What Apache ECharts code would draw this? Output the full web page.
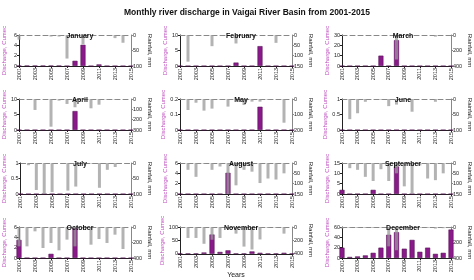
<!DOCTYPE html>
<html><head><meta charset="utf-8">
<script src="https://cdn.jsdelivr.net/npm/echarts@6/dist/echarts.min.js"></script>
<style>html,body{margin:0;padding:0;background:#fff}#c{width:474px;height:280px}</style>
</head><body><div id="c"></div>
<script>
const years = [2001,2002,2003,2004,2005,2006,2007,2008,2009,2010,2011,2012,2013,2014,2015];
const months = ['January','February','March','April','May','June','July','August','September','October','November','December'];
const janQ = [0.05,0.05,0.05,0.05,0.05,0.05,0,1.0,4.1,0,0.3,0,0,0,0];
const janR = [15,0,0,0,5,5,76,0,30,0,0,0,10,25,0];
const febQ = [0,0,0,0,0,0,0,1.1,0,0,6.4,0,0,0,0];
const febR = [0,129,0,0,54,0,0,41,0,0,0,0,38,0,0];
const marQ = [0,0,0,0,0,10,0,25,0,0,0,0,0,0,0];
const marR = [0,0,0,0,0,0,0,316,0,0,0,0,21,0,0];
const aprQ = [0,0,0,0,0,0,0,6.1,0,0,0,0,0,0,0];
const aprR = [0,0,106,0,268,16,48,80,0,90,55,5,5,0,0];
const mayQ = [0,0,0,0,0,0,0,0,0,0,0.15,0,0,0,0];
const mayR = [0,71,24,75,62,3,49,0,39,17,17,5,0,153,0];
const junQ = [0,0,0,0,0,0,0,0,0,0,0,0,0,0,0];
const junR = [0,65,46,9,0,2,23,18,0,41,0,0,9,0,0];
const julQ = [0,0,0,0,0,0,0,0,0,0,0,0,0,0,0];
const julR = [0,7,87,100,94,0,89,76,0,2,80,22,13,0,0];
const augQ = [0,0,0,0,0,0,4.1,0,0,0,0,0,0,0,0];
const augR = [0,33,67,3,33,17,150,108,33,42,97,75,80,50,0];
const sepQ = [2,0,0,0,2,0,0,13.3,0,0,0,0,0,0,0];
const sepR = [0,25,33,67,87,30,87,50,113,147,12,75,83,50,0];
const octQ = [3.5,0,0,0,0.8,0,0,5.8,0,0,0,0,0,0,0];
const octR = [250,250,56,271,206,301,163,250,17,228,155,206,99,284,0];
const novQ = [1,1,1,5,72,7,13,1,1,9,4,1,1,4,1];
const novR = [0,163,163,250,190,163,26,99,292,335,185,15,10,99,0];
const decQ = [20,2,3,5,10,20,45,50,18,35,12,20,8,10,55];
const decR = [20,10,10,10,10,5,250,300,20,15,10,10,20,15,0];
const dischargeSets = [janQ,febQ,marQ,aprQ,mayQ,junQ,julQ,augQ,sepQ,octQ,novQ,decQ];
const rainSets = [janR,febR,marR,aprR,mayR,junR,julR,augR,sepR,octR,novR,decR];
const qMax = [6,10,30,10,0.2,1,1,6,15,6,100,60];
const qStep = [2,5,10,5,0.1,0.5,0.5,2,5,2,50,20];
const rMax = [100,150,400,300,200,100,100,150,150,400,400,400];
const rStep = [50,50,200,100,100,50,50,50,50,200,200,200];

const colLeft = [19,180,342];
const rowTop = [35,99,163,227];
const gw = 112, gh = 31;
const FONT = 'Liberation Sans, Arial, sans-serif';
const purple = '#8a1a8a';

const grid=[], xAxis=[], yAxis=[], series=[], title=[];
title.push({text:'Monthly river discharge in Vaigai River Basin from 2001-2015', left:242, top:3, textAlign:'center',
  textStyle:{fontSize:8.5, fontWeight:'bold', color:'#111', fontFamily:FONT}});
for (let i=0;i<12;i++){
  const r=Math.floor(i/3), c=i%3;
  const L=colLeft[c], T=rowTop[r];
  grid.push({left:L, top:T, width:gw, height:gh, containLabel:false});
  title.push({text:months[i], left:L+gw/2, top:T-7, textAlign:'center',
    textStyle:{fontSize:7, fontWeight:'bold', color:'#111', fontFamily:FONT}});
  const isYears = (i===10);
  xAxis.push({type:'value', gridIndex:i, min:2001, max:2015, interval:2, position:'bottom',
    name: isYears?'Years':'', nameLocation:'middle', nameGap:17,
    nameTextStyle:{fontSize:7, color:'#222', fontFamily:FONT},
    axisLine:{lineStyle:{color:'#222', width:1}},
    axisTick:{show:true, length:2, lineStyle:{color:'#222'}},
    axisLabel:{rotate:90, fontSize:5.5, margin:2, color:'#222', fontFamily:FONT, formatter:v=>String(v)},
    splitLine:{show:false}});
  xAxis.push({type:'value', gridIndex:i, min:2001, max:2015, position:'top',
    axisLine:{lineStyle:{color:'#888', width:1, type:[5,3]}},
    axisTick:{show:false}, axisLabel:{show:false}, splitLine:{show:false}});
  yAxis.push({type:'value', gridIndex:i, min:0, max:qMax[i], interval:qStep[i], position:'left',
    name:'Discharge, Cumec', nameLocation:'middle', nameGap:12,
    nameTextStyle:{fontSize:6, color:'#c050c0', fontFamily:FONT},
    axisLine:{show:true, lineStyle:{color:'#222'}},
    axisTick:{show:true, length:2, lineStyle:{color:'#222'}},
    axisLabel:{fontSize:5.5, margin:2, color:'#222', fontFamily:FONT},
    splitLine:{show:false}});
  yAxis.push({type:'value', gridIndex:i, min:0, max:rMax[i], interval:rStep[i], position:'right', inverse:true,
    name:'Rainfall, mm', nameLocation:'middle', nameGap:16, nameRotate:-90,
    nameTextStyle:{fontSize:6, color:'#222', fontFamily:FONT},
    axisLine:{show:true, lineStyle:{color:'#888'}},
    axisTick:{show:true, length:2, lineStyle:{color:'#888'}},
    axisLabel:{fontSize:5.5, margin:2, color:'#222', fontFamily:FONT},
    splitLine:{show:false}});
  series.push({type:'bar', xAxisIndex:2*i, yAxisIndex:2*i, barWidth:5, clip:false, silent:true,
    itemStyle:{color:purple, borderColor:'#4a0a4a', borderWidth:0.5},
    data: years.map((y,k)=>[y, dischargeSets[i][k]]), z:2});
  series.push({type:'bar', xAxisIndex:2*i+1, yAxisIndex:2*i+1, barWidth:3, clip:false, silent:true,
    itemStyle:{color:'#9a9a9a', opacity:0.75},
    data: years.map((y,k)=>[y, rainSets[i][k]]), z:3});
}
const chart = echarts.init(document.getElementById('c'), null, {renderer:'canvas'});
chart.setOption({animation:false, backgroundColor:'#fff', title, grid, xAxis, yAxis, series});
</script></body></html>
